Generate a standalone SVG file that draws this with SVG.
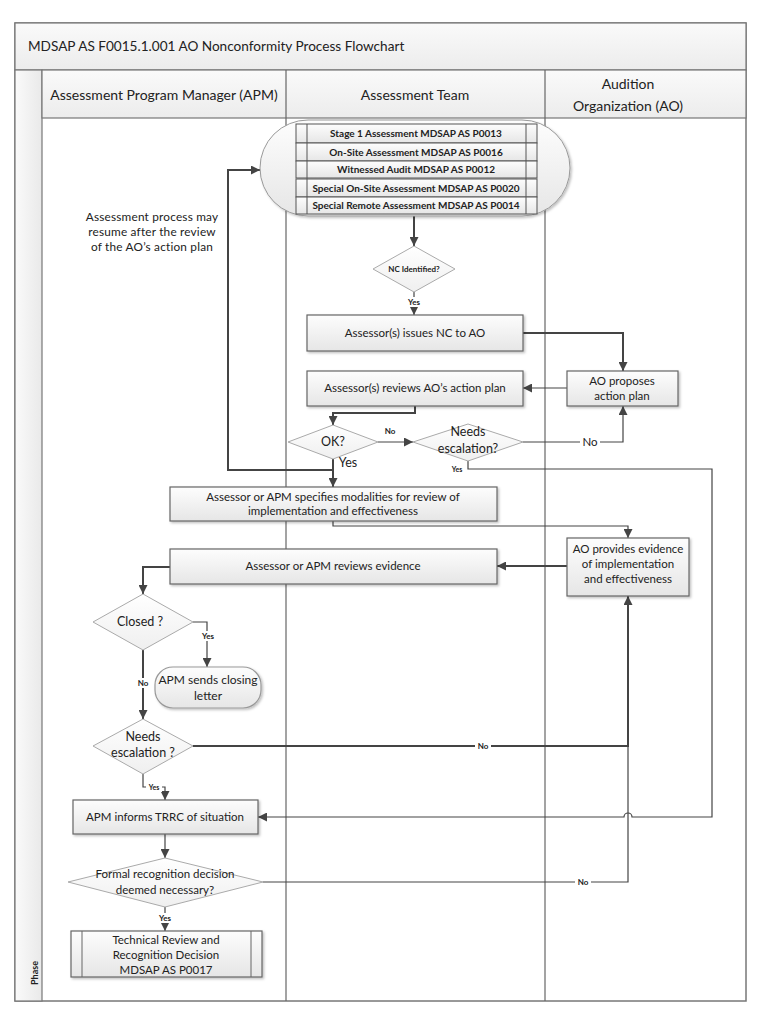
<svg xmlns="http://www.w3.org/2000/svg" width="768" height="1024" viewBox="0 0 768 1024">
<defs>
<linearGradient id="gBox" x1="0" y1="0" x2="0" y2="1"><stop offset="0" stop-color="#fdfdfd"/><stop offset="1" stop-color="#e6e6e6"/></linearGradient>
<linearGradient id="gHead" x1="0" y1="0" x2="0" y2="1"><stop offset="0" stop-color="#fafafa"/><stop offset="1" stop-color="#ececec"/></linearGradient>
<linearGradient id="gPhase" x1="0" y1="0" x2="1" y2="0"><stop offset="0" stop-color="#fafafa"/><stop offset="1" stop-color="#e9e9e9"/></linearGradient>
<linearGradient id="gDia" x1="0" y1="0" x2="0" y2="1"><stop offset="0" stop-color="#ffffff"/><stop offset="1" stop-color="#efefef"/></linearGradient>
<filter id="sh" x="-10%" y="-10%" width="130%" height="140%"><feDropShadow dx="1.5" dy="1.5" stdDeviation="1" flood-color="#000" flood-opacity="0.25"/></filter>
<marker id="ar" viewBox="0 0 10 10" refX="10" refY="5" markerWidth="9" markerHeight="9" markerUnits="userSpaceOnUse" orient="auto"><path d="M0,0 L10,5 L0,10 Z" fill="#444"/></marker>
</defs>
<style>
text{font-family:Lato,"Open Sans","Liberation Sans",sans-serif;fill:#222;text-anchor:middle}
.title{font-size:13.6px;text-anchor:start}
.hd{font-size:14px}
.bx{fill:url(#gBox);stroke:#666;stroke-width:1.2;filter:url(#sh)}
.dia{fill:url(#gDia);stroke:#aaa;stroke-width:1}
.t{font-size:11.5px}
.t2{font-size:12.5px}
.st{font-size:10px;font-weight:bold}
.lb{font-size:8px;font-weight:bold}
.ln{fill:none;stroke:#444;stroke-width:1.2}
.lt{fill:none;stroke:#444;stroke-width:2}
.lane{stroke:#666;stroke-width:1.2;fill:none}
.bg{fill:#fff}
</style>
<g id="frame">
<rect x="15" y="23" width="731" height="978" fill="#fff" stroke="#777" stroke-width="1.5"/>
<rect x="15" y="23" width="731" height="47" fill="url(#gHead)" stroke="#777" stroke-width="1.2"/>
<text class="title" x="28" y="51">MDSAP AS F0015.1.001 AO Nonconformity Process Flowchart</text>
<rect x="15" y="70" width="27" height="931" fill="url(#gPhase)" stroke="#777" stroke-width="1.2"/>
<rect x="42" y="70" width="704" height="48" fill="url(#gHead)" stroke="#777" stroke-width="1.2"/>
<line class="lane" x1="286" y1="70" x2="286" y2="1001"/>
<line class="lane" x1="545" y1="70" x2="545" y2="1001"/>
<text class="hd" x="164" y="100">Assessment Program Manager (APM)</text>
<text class="hd" x="415" y="100">Assessment Team</text>
<text class="hd" x="628" y="89">Audition</text>
<text class="hd" x="628" y="111">Organization (AO)</text>
<text x="38" y="985" transform="rotate(-90 38 985)" style="font-size:9px;font-weight:bold;text-anchor:start">Phase</text>
</g>
<g id="connectors">
<path class="lt" d="M414,214 V246" marker-end="url(#ar)"/>
<path class="ln" d="M414,292 V315" marker-end="url(#ar)"/>
<path class="lt" d="M523,333 H623 V371" marker-end="url(#ar)"/>
<path class="ln" d="M567,388 H523" marker-end="url(#ar)"/>
<path class="lt" d="M415,406 V413 H333 V425" marker-end="url(#ar)"/>
<path class="ln" d="M378,442 H413" marker-end="url(#ar)"/>
<path class="ln" d="M523,442 H623 V406" marker-end="url(#ar)"/>
<path class="lt" d="M333,459 V487" marker-end="url(#ar)"/>
<path class="lt" d="M333,470 H228 V170 H260" marker-end="url(#ar)"/>
<path class="ln" d="M468,461 V469 H712 V817 H632 A4,4 0 0 0 624,817 H258" marker-end="url(#ar)"/>
<path class="ln" d="M333,521 V526 H628 V538" marker-end="url(#ar)"/>
<path class="lt" d="M567,566 H497" marker-end="url(#ar)"/>
<path class="lt" d="M170,567 H143 V594" marker-end="url(#ar)"/>
<path class="ln" d="M193,622 H207 V667" marker-end="url(#ar)"/>
<path class="lt" d="M143,650 V719" marker-end="url(#ar)"/>
<path class="lt" d="M193,746 H628 V596" marker-end="url(#ar)"/>
<path class="ln" d="M143,774 V787 H165 V800" marker-end="url(#ar)"/>
<path class="ln" d="M165,834 V858" marker-end="url(#ar)"/>
<path class="ln" d="M263,882 H628 V746"/>
<path class="ln" d="M165,907 V931" marker-end="url(#ar)"/>
<rect class="bg" x="405" y="297" width="18" height="10"/>
<text class="lb" x="414" y="305">Yes</text>
<text class="lb" x="390" y="434">No</text>
<rect class="bg" x="580" y="436" width="20" height="12"/>
<text class="t" x="590" y="446">No</text>
<text class="t2" x="348" y="467">Yes</text>
<text style="font-size:7px;font-weight:bold" x="457" y="472">Yes</text>
<rect class="bg" x="199" y="631" width="18" height="10"/>
<text class="lb" x="208" y="639">Yes</text>
<rect class="bg" x="135" y="678" width="16" height="10"/>
<text class="lb" x="143" y="686">No</text>
<rect class="bg" x="475" y="741" width="16" height="10"/>
<text class="lb" x="483" y="749">No</text>
<rect class="bg" x="146" y="782" width="16" height="10"/>
<text style="font-size:7px;font-weight:bold" x="154" y="790">Yes</text>
<rect class="bg" x="575" y="877" width="16" height="10"/>
<text class="lb" x="583" y="885">No</text>
<rect class="bg" x="156" y="913" width="18" height="10"/>
<text class="lb" x="165" y="921">Yes</text>
</g>
<g id="n-stage">
<rect x="260" y="120" width="310" height="96" rx="48" fill="url(#gBox)" stroke="#999" stroke-width="1" filter="url(#sh)"/>
<g fill="url(#gBox)" stroke="#555" stroke-width="1">
<rect x="296" y="124" width="241" height="19"/>
<rect x="296" y="143" width="241" height="18"/>
<rect x="296" y="161" width="241" height="17"/>
<rect x="296" y="179" width="241" height="18"/>
<rect x="296" y="197" width="241" height="17"/>
<line x1="307" y1="124" x2="307" y2="214"/>
<line x1="526" y1="124" x2="526" y2="214"/>
</g>
<text class="st" x="416" y="137">Stage 1 Assessment MDSAP AS P0013</text>
<text class="st" x="416" y="155.5">On-Site Assessment MDSAP AS P0016</text>
<text class="st" x="416" y="173">Witnessed Audit MDSAP AS P0012</text>
<text class="st" x="416" y="191.5">Special On-Site Assessment MDSAP AS P0020</text>
<text class="st" x="416" y="209">Special Remote Assessment MDSAP AS P0014</text>
</g>
<g id="n-ncid">
<polygon class="dia" points="414,246 455,269 414,292 373,269"/>
<text x="414" y="272" style="font-size:8px;font-weight:bold">NC Identified?</text>
</g>
<g id="n-issues">
<rect class="bx" x="307" y="315" width="216" height="36"/>
<text class="t" x="415" y="337">Assessor(s) issues NC to AO</text>
</g>
<g id="n-propose">
<rect class="bx" x="567" y="371" width="111" height="35"/>
<text class="t" x="622" y="385">AO proposes</text>
<text class="t" x="622" y="400">action plan</text>
</g>
<g id="n-reviews">
<rect class="bx" x="307" y="371" width="216" height="35"/>
<text class="t" x="415" y="392">Assessor(s) reviews AO’s action plan</text>
</g>
<g id="n-ok">
<polygon class="dia" points="333,425 378,442 333,459 288,442"/>
<text class="t2" x="333" y="446">OK?</text>
</g>
<g id="n-esc1">
<polygon class="dia" points="468,424 523,442 468,461 413,442"/>
<text class="t2" x="468" y="436">Needs</text>
<text class="t2" x="468" y="453">escalation?</text>
</g>
<g id="n-note">
<text x="152" y="221" style="font-size:11.8px;letter-spacing:0.2px">Assessment process may</text>
<text x="152" y="236" style="font-size:11.8px;letter-spacing:0.2px">resume after the review</text>
<text x="152" y="251" style="font-size:11.8px;letter-spacing:0.2px">of the AO’s action plan</text>
</g>
<g id="n-modal">
<rect class="bx" x="170" y="487" width="327" height="34"/>
<text class="t" x="333" y="501">Assessor or APM specifies modalities for review of</text>
<text class="t" x="333" y="515">implementation and effectiveness</text>
</g>
<g id="n-aoev">
<rect class="bx" x="567" y="538" width="122" height="58"/>
<text class="t" x="628" y="553">AO provides evidence</text>
<text class="t" x="628" y="568">of implementation</text>
<text class="t" x="628" y="583">and effectiveness</text>
</g>
<g id="n-revev">
<rect class="bx" x="170" y="549" width="327" height="35"/>
<text class="t" x="333" y="570">Assessor or APM reviews evidence</text>
</g>
<g id="n-closed">
<polygon class="dia" points="143,594 193,622 143,650 93,622"/>
<text class="t2" x="140" y="626">Closed ?</text>
</g>
<g id="n-closing">
<rect class="bx" x="155" y="667" width="106" height="41" rx="18" style="stroke:#999"/>
<text x="208" y="684" style="font-size:12px">APM sends closing</text>
<text x="208" y="700" style="font-size:12px">letter</text>
</g>
<g id="n-esc2">
<polygon class="dia" points="143,719 193,746 143,774 93,746"/>
<text class="t2" x="143" y="741">Needs</text>
<text class="t2" x="143" y="757">escalation ?</text>
</g>
<g id="n-trrc">
<rect class="bx" x="73" y="800" width="185" height="34"/>
<text class="t" x="165" y="821">APM informs TRRC of situation</text>
</g>
<g id="n-formal">
<polygon class="dia" points="165,858 263,882 165,907 68,882"/>
<text class="t" x="165" y="878">Formal recognition decision</text>
<text class="t" x="165" y="894">deemed necessary?</text>
</g>
<g id="n-tech">
<rect class="bx" x="71" y="931" width="191" height="46"/>
<line x1="82" y1="931" x2="82" y2="977" stroke="#666"/>
<line x1="251" y1="931" x2="251" y2="977" stroke="#666"/>
<text class="t" x="166" y="944">Technical Review and</text>
<text class="t" x="166" y="959">Recognition Decision</text>
<text class="t" x="166" y="974">MDSAP AS P0017</text>
</g>
</svg>
